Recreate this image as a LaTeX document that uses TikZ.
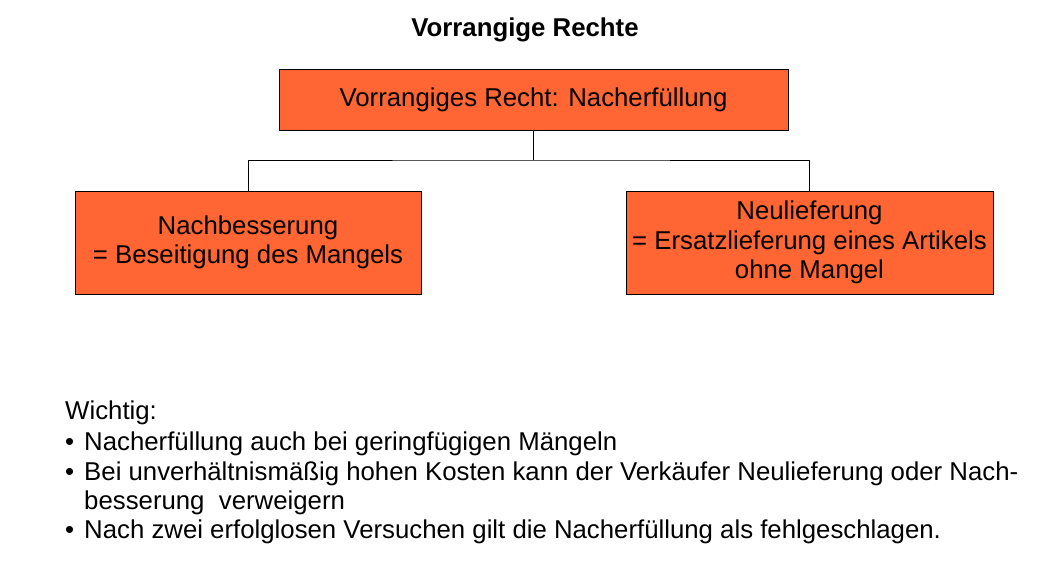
\documentclass[tikz,border=0pt]{standalone}
\usepackage{fontspec}
\setmainfont{Liberation Sans}
\definecolor{boxorange}{HTML}{FF6633}
\tikzset{
  rechtbox/.style={draw=black, fill=boxorange, align=center, inner sep=0pt, font=\fontsize{22}{25}\selectfont},
  textline/.style={anchor=west, inner sep=0pt, font=\fontsize{22}{25}\selectfont},
}
\newcommand{\punkt}{\makebox[0.57cm][l]{\textbullet}}
\begin{document}
\begin{tikzpicture}[x=0.03cm, y=-0.03cm]
  \useasboundingbox (0,0) rectangle (1061,570);
  % title
  \node[font=\bfseries\fontsize{22}{25}\selectfont] (titel) at (525,30) {Vorrangige Rechte};
  % boxes
  \node[rechtbox, minimum width=509*0.03cm, minimum height=61*0.03cm] (nach) at (533.5,99.5) {Vorrangiges Recht: Nacherfüllung};
  \node[rechtbox, minimum width=346*0.03cm, minimum height=103*0.03cm] (bess) at (248,242.5) {Nachbesserung\\= Beseitigung des Mangels};
  \node[rechtbox, minimum width=367*0.03cm, minimum height=103*0.03cm] (neu) at (809.5,242.5) {Neulieferung\\= Ersatzlieferung eines Artikels\\ohne Mangel};
  % connectors
  \coordinate (knick) at (533.5,160);
  \draw (nach.south) -- (knick);
  \draw (bess.north) |- (knick) -| (neu.north);
  % notes
  \node[textline] (w0) at (65,413) {Wichtig:};
  \node[textline] (w1) at (65,444) {\punkt Nacherfüllung auch bei geringfügigen Mängeln};
  \node[textline] (w2) at (65,474) {\punkt Bei unverhältnismäßig hohen Kosten kann der Verkäufer Neulieferung oder Nach-};
  \node[textline] (w3) at (84,503) {besserung\ \ verweigern};
  \node[textline] (w4) at (65,532) {\punkt Nach zwei erfolglosen Versuchen gilt die Nacherfüllung als fehlgeschlagen.};
\end{tikzpicture}
\end{document}
